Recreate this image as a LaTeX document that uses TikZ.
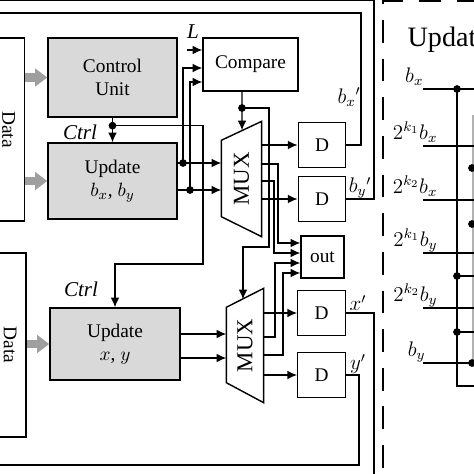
\documentclass[tikz,border=0pt]{standalone}
\usepackage{fontspec}
\setmainfont{Liberation Serif}
\usepackage{tikz}
\usetikzlibrary{arrows.meta,positioning,calc}
\tikzset{blk/.style={draw=black,thick,align=center,inner sep=1pt}}
\tikzset{upd/.style={blk,fill=gray!30}}
\tikzset{dff/.style={blk,minimum width=0.95cm,minimum height=0.9cm}}
\tikzset{datin/.style={line width=5pt,draw=gray!75,-{Triangle[length=7pt,width=10pt]}}}
\tikzset{lbl/.style={font=\fontsize{12}{14}\selectfont,inner sep=0pt}}

\begin{document}
\begin{tikzpicture}[x=0.02cm, y=-0.02cm, >={Latex[length=5.5pt,width=5pt]}, thick,
  every node/.style={font=\fontsize{11}{13}\selectfont}]
\useasboundingbox (0,0) rectangle (474,474);
\clip (0,0) rectangle (474,474);
    \node[blk, minimum width=0.64cm, minimum height=3.66cm] (data1) at (8.5,129.5) {};
    \node[rotate=-90] (data1txt) at (data1) {Data};
    \node[blk, minimum width=0.64cm, minimum height=3.68cm] (data2) at (10,345) {};
    \node[rotate=-90] (data2txt) at (data2) {Data};

    \node[upd, minimum width=2.58cm, minimum height=1.58cm] (cu) at (112.5,77.5) {Control\\Unit};
    \node[upd, minimum width=2.58cm, minimum height=1.52cm] (updb) at (112.5,181) {Update\\$b_x$, $b_y$};
    \node[upd, minimum width=2.6cm, minimum height=1.44cm] (updxy) at (115,344) {Update\\$x$, $y$};
    \node[blk, minimum width=1.9cm, minimum height=1.06cm] (cmp) at (250.5,64.5) {Compare};

    % multiplexers
    \node[minimum width=0.78cm, minimum height=2.28cm] (mux1) at (241.5,179) {};
    \draw (mux1.north east) -- (mux1.south east) -- ($(mux1.south west)+(0,-20)$) -- ($(mux1.north west)+(0,19)$) -- cycle;
    \node[rotate=90, font=\fontsize{13}{15}\selectfont] (mux1txt) at (mux1) {MUX};
    \node[minimum width=0.72cm, minimum height=2.26cm] (mux2) at (245,345.5) {};
    \draw (mux2.north east) -- (mux2.south east) -- ($(mux2.south west)+(0,-20)$) -- ($(mux2.north west)+(0,19)$) -- cycle;
    \node[rotate=90, font=\fontsize{13}{15}\selectfont] (mux2txt) at (mux2) {MUX};

    \node[dff] (d1) at (322,145) {D};
    \node[dff] (d2) at (322,199) {D};
    \node[dff] (dx) at (321.5,313) {D};
    \node[dff] (dy) at (321.5,375) {D};
    \node[blk, minimum width=0.86cm, minimum height=0.84cm] (out) at (322.5,257) {out};

    % data inputs
    \draw[datin] (data1.east |- cu.west) -- (cu.west);
    \draw[datin] (data1.east |- updb.west) -- (updb.west);
    \draw[datin] (data2.east |- updxy.west) -- (updxy.west);

    % control
    \coordinate (ctl) at ($(cu.south)+(0,8)$);
    \coordinate (ctlb) at (203,264);
    \draw[->] (cu.south) -- (updb.north);
    \draw[->] (ctl) -| (ctlb) -| (updxy.north);
    \fill (ctl) circle (2.2pt);
    \node[lbl] (ctrl1) at (80,132) {\textit{Ctrl}};
    \node[lbl] (ctrl2) at (81,289) {\textit{Ctrl}};

    % update outputs
    \coordinate (jb1) at (183,163);
    \coordinate (jb2) at (190,190);
    \coordinate (lin) at (187,50);
    \draw[->] (updb.east |- jb1) -- (mux1.west |- jb1);
    \draw[->] (updb.east |- jb2) -- (mux1.west |- jb2);
    \draw[->] (jb1) |- (cmp.west |- 0,68);
    \draw[->] (jb2) |- (cmp.west |- 0,82);
    \draw[->] (lin) -- (cmp.west |- lin);
    \fill (jb1) circle (2.2pt);
    \fill (jb2) circle (2.2pt);
    \node[lbl] (lL) at (193,32) {\textit{L}};
    \draw[->] (updxy.east |- 0,334) -- (mux2.west |- 0,334);
    \draw[->] (updxy.east |- 0,358) -- (mux2.west |- 0,358);

    % select lines
    \coordinate (jc) at (242,108);
    \coordinate (sel1) at ($(mux1.north)+(0.5,9)$);
    \coordinate (sel2) at ($(mux2.north)+(-2,11)$);
    \draw[->] (cmp.south -| jc) -- (sel1);
    \draw[->] (jc) -| (269,247) -| (sel2);
    \fill (jc) circle (2.2pt);

    % mux outputs
    \draw[->] (mux1.east |- d1) -- (d1.west);
    \draw[->] (mux1.east |- d2) -- (d2.west);
    \draw[->] (mux1.east |- 0,164) -| (278,243) -- (out.west |- 0,243);
    \draw[->] (mux1.east |- 0,181) -| (274,253) -- (out.west |- 0,253);
    \draw[->] (mux2.east |- dx) -- (dx.west);
    \draw[->] (mux2.east |- dy) -- (dy.west);
    \draw[->] (mux2.east |- 0,337) -| (275,263) -- (out.west |- 0,263);
    \draw[->] (mux2.east |- 0,355) -| (283,273) -- (out.west |- 0,273);

    % feedback
    \coordinate (fbx) at (-10,13);
    \coordinate (fby) at (-10,0.5);
    \coordinate (fxx) at (374,480);
    \coordinate (fyy) at (-10,465);
    \draw (d1.east) -| (361,13) -- (fbx);
    \draw (d2.east) -| (374,0.5) -- (fby);
    \draw (dx.east) -| (fxx);
    \draw (dy.east) -| (359,465) -- (fyy);
    \node[lbl] (lbx) at (349,97) {$b_x{}^{\prime}$};
    \node[lbl] (lby) at (360,188) {$b_y{}^{\prime}$};
    \node[lbl] (lx) at (358,303) {$x'$};
    \node[lbl] (ly) at (358,364) {$y'$};

    % right panel
    \draw[line width=1.6pt, dash pattern=on 13pt off 9pt] (480,1) -- (383,1) -- (383,480);
    \node[anchor=base west, inner sep=0pt, font=\fontsize{16}{18}\selectfont] (updt) at (407,46) {Updat};
    \draw[gray!60, line width=1pt] (473,115) -- (473,363);
    \foreach \yy/\xe/\lab in {89/424/b_x, 146/438/2^{k_1}b_x, 200/438/2^{k_2}b_x, 253/438/2^{k_1}b_y, 308/438/2^{k_2}b_y, 363/426/b_y}{
      \node[lbl, anchor=base east] (r\yy) at (\xe,\yy-7) {$\lab$};
      \draw (423,\yy) -- (480,\yy);
    }
    \coordinate (rv) at (457,89);
    \draw (rv) -- (457,386) -- (480,386);
    \draw (457,276) -- (480,276);
    \draw (457,332) -- (480,332);
    \foreach \yy in {89,276,332}
      \fill (457,\yy) circle (2.2pt);
    \foreach \yy in {168,224,363}
      \fill (472,\yy) circle (2.2pt);
\end{tikzpicture}
\end{document}
